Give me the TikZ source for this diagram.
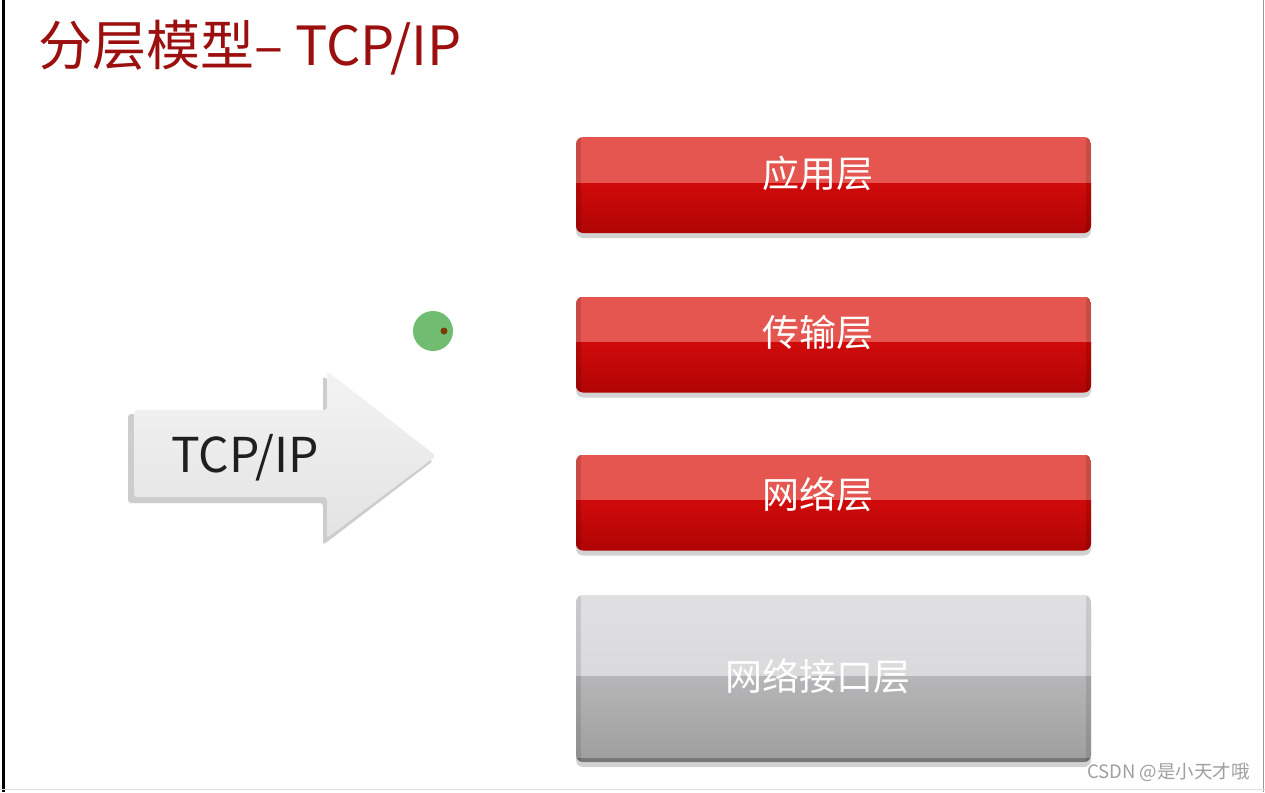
\documentclass[tikz,border=0pt]{standalone}
\usepackage{fontspec}
\setmainfont{Noto Sans CJK SC}
\usetikzlibrary{shadows,calc}
\definecolor{titlered}{HTML}{9C0F0F}
\definecolor{rtop}{HTML}{E4564F}
\definecolor{rmid}{HTML}{D00A0A}
\definecolor{rbot}{HTML}{B00404}
\definecolor{gtop}{HTML}{E0DFE2}
\definecolor{gtopb}{HTML}{D3D3D5}
\definecolor{gmid}{HTML}{B6B6B8}
\definecolor{gbot}{HTML}{9E9E9E}
\definecolor{dotgreen}{HTML}{70BC70}
\definecolor{dotbrown}{HTML}{7A3A00}
\definecolor{arrowback}{HTML}{CDCDCD}
\definecolor{arrowtop}{HTML}{F3F3F3}
\definecolor{arrowbot}{HTML}{E3E3E3}
\tikzset{
  layerbar/.style={rectangle, rounded corners=7pt, minimum width=515pt, inner sep=0pt,
    drop shadow={shadow xshift=0pt, shadow yshift=-5pt, opacity=0.35}},
  redbar/.style={layerbar, minimum height=96pt,
    path picture={
      \fill[rtop, sharp corners] (path picture bounding box.north west) rectangle ($(path picture bounding box.east)+(0,-2)$);
      \shade[top color=rmid, bottom color=rbot, sharp corners] ($(path picture bounding box.west)+(0,-2)$) rectangle (path picture bounding box.south east);
      \fill[black, opacity=0.12, sharp corners] (path picture bounding box.north west) rectangle ($(path picture bounding box.south west)+(5,0)$);
      \fill[black, opacity=0.12, sharp corners] ($(path picture bounding box.north east)+(-5,0)$) rectangle (path picture bounding box.south east);
    }},
  graybar/.style={layerbar, minimum height=167pt,
    path picture={
      \shade[top color=gtop, bottom color=gtopb, sharp corners] (path picture bounding box.north west) rectangle ($(path picture bounding box.east)+(0,-2)$);
      \shade[top color=gmid, bottom color=gbot, sharp corners] ($(path picture bounding box.west)+(0,-2)$) rectangle (path picture bounding box.south east);
      \fill[black, opacity=0.25, sharp corners] ($(path picture bounding box.south west)+(0,-4)$) rectangle (path picture bounding box.south east);
      \fill[black, opacity=0.10, sharp corners] (path picture bounding box.north west) rectangle ($(path picture bounding box.south west)+(5,0)$);
      \fill[black, opacity=0.10, sharp corners] ($(path picture bounding box.north east)+(-5,0)$) rectangle (path picture bounding box.south east);
    }},
  layertext/.style={text=white, font=\fontsize{37}{37}\selectfont, inner sep=0pt},
}
\begin{document}
\begin{tikzpicture}[x=1pt,y=-1pt]
\useasboundingbox (0,0) rectangle (1265,792);
\fill[white] (0,0) rectangle (1265,792);
% frame lines
\draw[black, line width=3pt] (3,0) -- (3,792);
\draw[gray!80, line width=1.5pt] (1263.5,0) -- (1263.5,792);
\draw[gray!25, line width=1.5pt] (0,789.5) -- (1265,789.5);

% title
\node[anchor=base west, inner sep=0pt, text=titlered, font=\fontsize{54}{54}\selectfont] (title) at (38,66) {分层模型– TCP/IP};

% layer bars
\node[redbar] (bar1) at (833.5,185) {};
\node[redbar] (bar2) at (833.5,344.5) {};
\node[redbar] (bar3) at (833.5,502.5) {};
\node[graybar] (bar4) at (833.5,678.5) {};
\node[layertext] (t1) at (818,173) {应用层};
\node[layertext] (t2) at (818,333) {传输层};
\node[layertext] (t3) at (818,494) {网络层};
\node[layertext] (t4) at (818,676) {网络接口层};

% arrow
\fill[arrowback, rounded corners=3pt] (128,414) -- (323,414) -- (323,376) -- (433,461) -- (323,545) -- (323,503) -- (128,503) -- cycle;
\shade[top color=arrowtop, bottom color=arrowbot, rounded corners=3pt] (134,410) -- (327,410) -- (327,371) -- (436,456) -- (327,538) -- (327,497) -- (134,497) -- cycle;
\node[text=black!88, font=\fontsize{48}{48}\selectfont, inner sep=0pt] (arrowtext) at (245,458) {TCP/IP};

% pointer dot
\node[circle, fill=dotgreen, minimum size=40pt, inner sep=0pt] (pointer) at (433,331) {};
\node[circle, fill=dotbrown, minimum size=7pt, inner sep=0pt] (pointerdot) at (444,331) {};

% watermark
\node[anchor=east, text=gray!75, font=\fontsize{18.5}{18.5}\selectfont, inner sep=0pt] (wm) at (1250,772) {CSDN @是小天才哦};
\end{tikzpicture}
\end{document}
